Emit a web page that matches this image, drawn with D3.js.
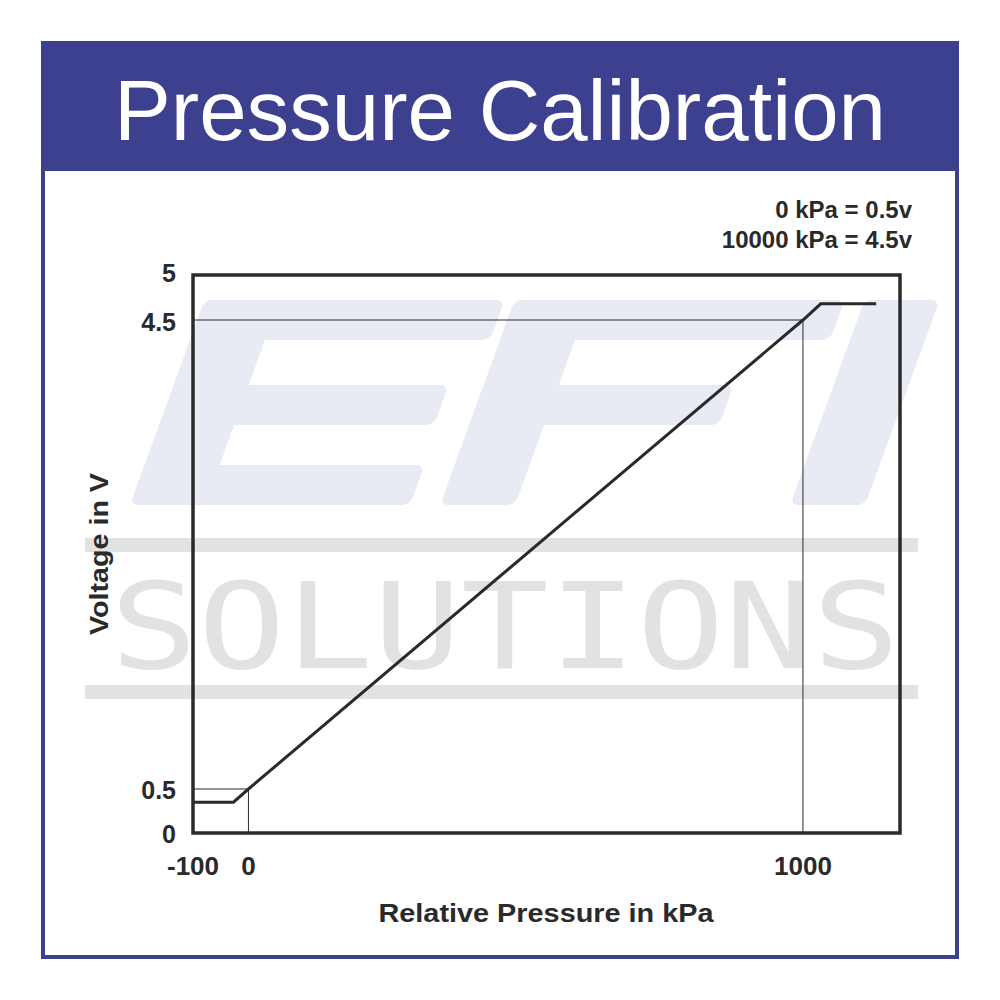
<!DOCTYPE html><html><head><script src="https://cdn.jsdelivr.net/npm/d3@7"></script>
<style>body{margin:0;background:#fff}</style></head><body><script>
const pressure=[-100,-27,0,1000,1032,1132];
const voltage=[0.35,0.35,0.5,4.5,4.68,4.68];
const xTicks=[-100,0,1000];
const yTicks=[0,0.5,4.5,5];
const refPoints=[[0,0.5],[1000,4.5]];
const notes=["0 kPa = 0.5v","10000 kPa = 4.5v"];
const svg=d3.select("body").append("svg").attr("width",1000).attr("height",1000).style("font-family","Liberation Sans, Arial, sans-serif");
svg.append("rect").attr("x",43).attr("y",43).attr("width",914).attr("height",914).attr("fill","#fff").attr("stroke","#3d3f8f").attr("stroke-width",4);
svg.append("rect").attr("x",43).attr("y",43).attr("width",914).attr("height",128).attr("fill","#3d3f8f");
svg.append("text").attr("x",500).attr("y",140).attr("text-anchor","middle").attr("fill","#fff").attr("font-size",86).attr("textLength",772).attr("lengthAdjust","spacingAndGlyphs").text("Pressure Calibration");
// watermark logo (graphic)
const wm=svg.append("g");
const logo=wm.append("g").attr("transform","translate(0,505) skewX(-20) translate(0,-505)").attr("fill","#e8eaf4");
[[130,300,300,40],[130,300,75,205],[165,385,240,40],[130,465,280,40],
 [440,300,330,40],[440,300,75,205],[440,385,250,40],
 [790,300,75,205]].forEach(r=>logo.append("rect").attr("x",r[0]).attr("y",r[1]).attr("width",r[2]).attr("height",r[3]).attr("rx",8));
wm.append("rect").attr("x",85).attr("y",538).attr("width",833).attr("height",14).attr("fill","#e2e2e2");
wm.append("rect").attr("x",85).attr("y",685).attr("width",833).attr("height",14).attr("fill","#e2e2e2");
wm.append("text").attr("x",505).attr("y",668).attr("text-anchor","middle").attr("font-size",120).attr("fill","#e2e2e2").attr("font-family","DejaVu Sans Mono").attr("textLength",790).attr("lengthAdjust","spacingAndGlyphs").text("SOLUTIONS");
const x=d3.scaleLinear().domain([-100,1175]).range([193,900]);
const y=d3.scaleLinear().domain([0,0.5,4.5,5]).range([833,789,320,275]);
const ink="#2a2a2a";
refPoints.forEach(([p,v])=>{
 svg.append("path").attr("d",`M${x(-100)},${y(v)}H${x(p)}V${y(0)}`).attr("fill","none").attr("stroke",ink).attr("stroke-width",1);
});
svg.append("path").datum(pressure.map((p,i)=>[p,voltage[i]])).attr("d",d3.line().x(d=>x(d[0])).y(d=>y(d[1]))).attr("fill","none").attr("stroke",ink).attr("stroke-width",3);
svg.append("rect").attr("x",193).attr("y",275).attr("width",707).attr("height",558).attr("fill","none").attr("stroke",ink).attr("stroke-width",3.5);
xTicks.forEach(t=>svg.append("text").attr("x",x(t)).attr("y",875).attr("text-anchor","middle").attr("font-size",26).attr("font-weight","bold").attr("fill",ink).text(t));
yTicks.forEach(t=>svg.append("text").attr("x",176).attr("y",y(t)+(t===5?7:t===4.5?11:10)).attr("text-anchor","end").attr("font-size",25).attr("font-weight","bold").attr("fill",ink).text(t));
svg.append("text").attr("x",546).attr("y",922).attr("text-anchor","middle").attr("font-size",26).attr("font-weight","bold").attr("fill",ink).attr("textLength",335).attr("lengthAdjust","spacingAndGlyphs").text("Relative Pressure in kPa");
svg.append("text").attr("transform","translate(108,554) rotate(-90)").attr("text-anchor","middle").attr("font-size",26).attr("font-weight","bold").attr("fill",ink).attr("textLength",162).attr("lengthAdjust","spacingAndGlyphs").text("Voltage in V");
notes.forEach((n,i)=>svg.append("text").attr("x",912).attr("y",218+i*30).attr("text-anchor","end").attr("font-size",24).attr("font-weight","bold").attr("fill",ink).text(n));
</script></body></html>
